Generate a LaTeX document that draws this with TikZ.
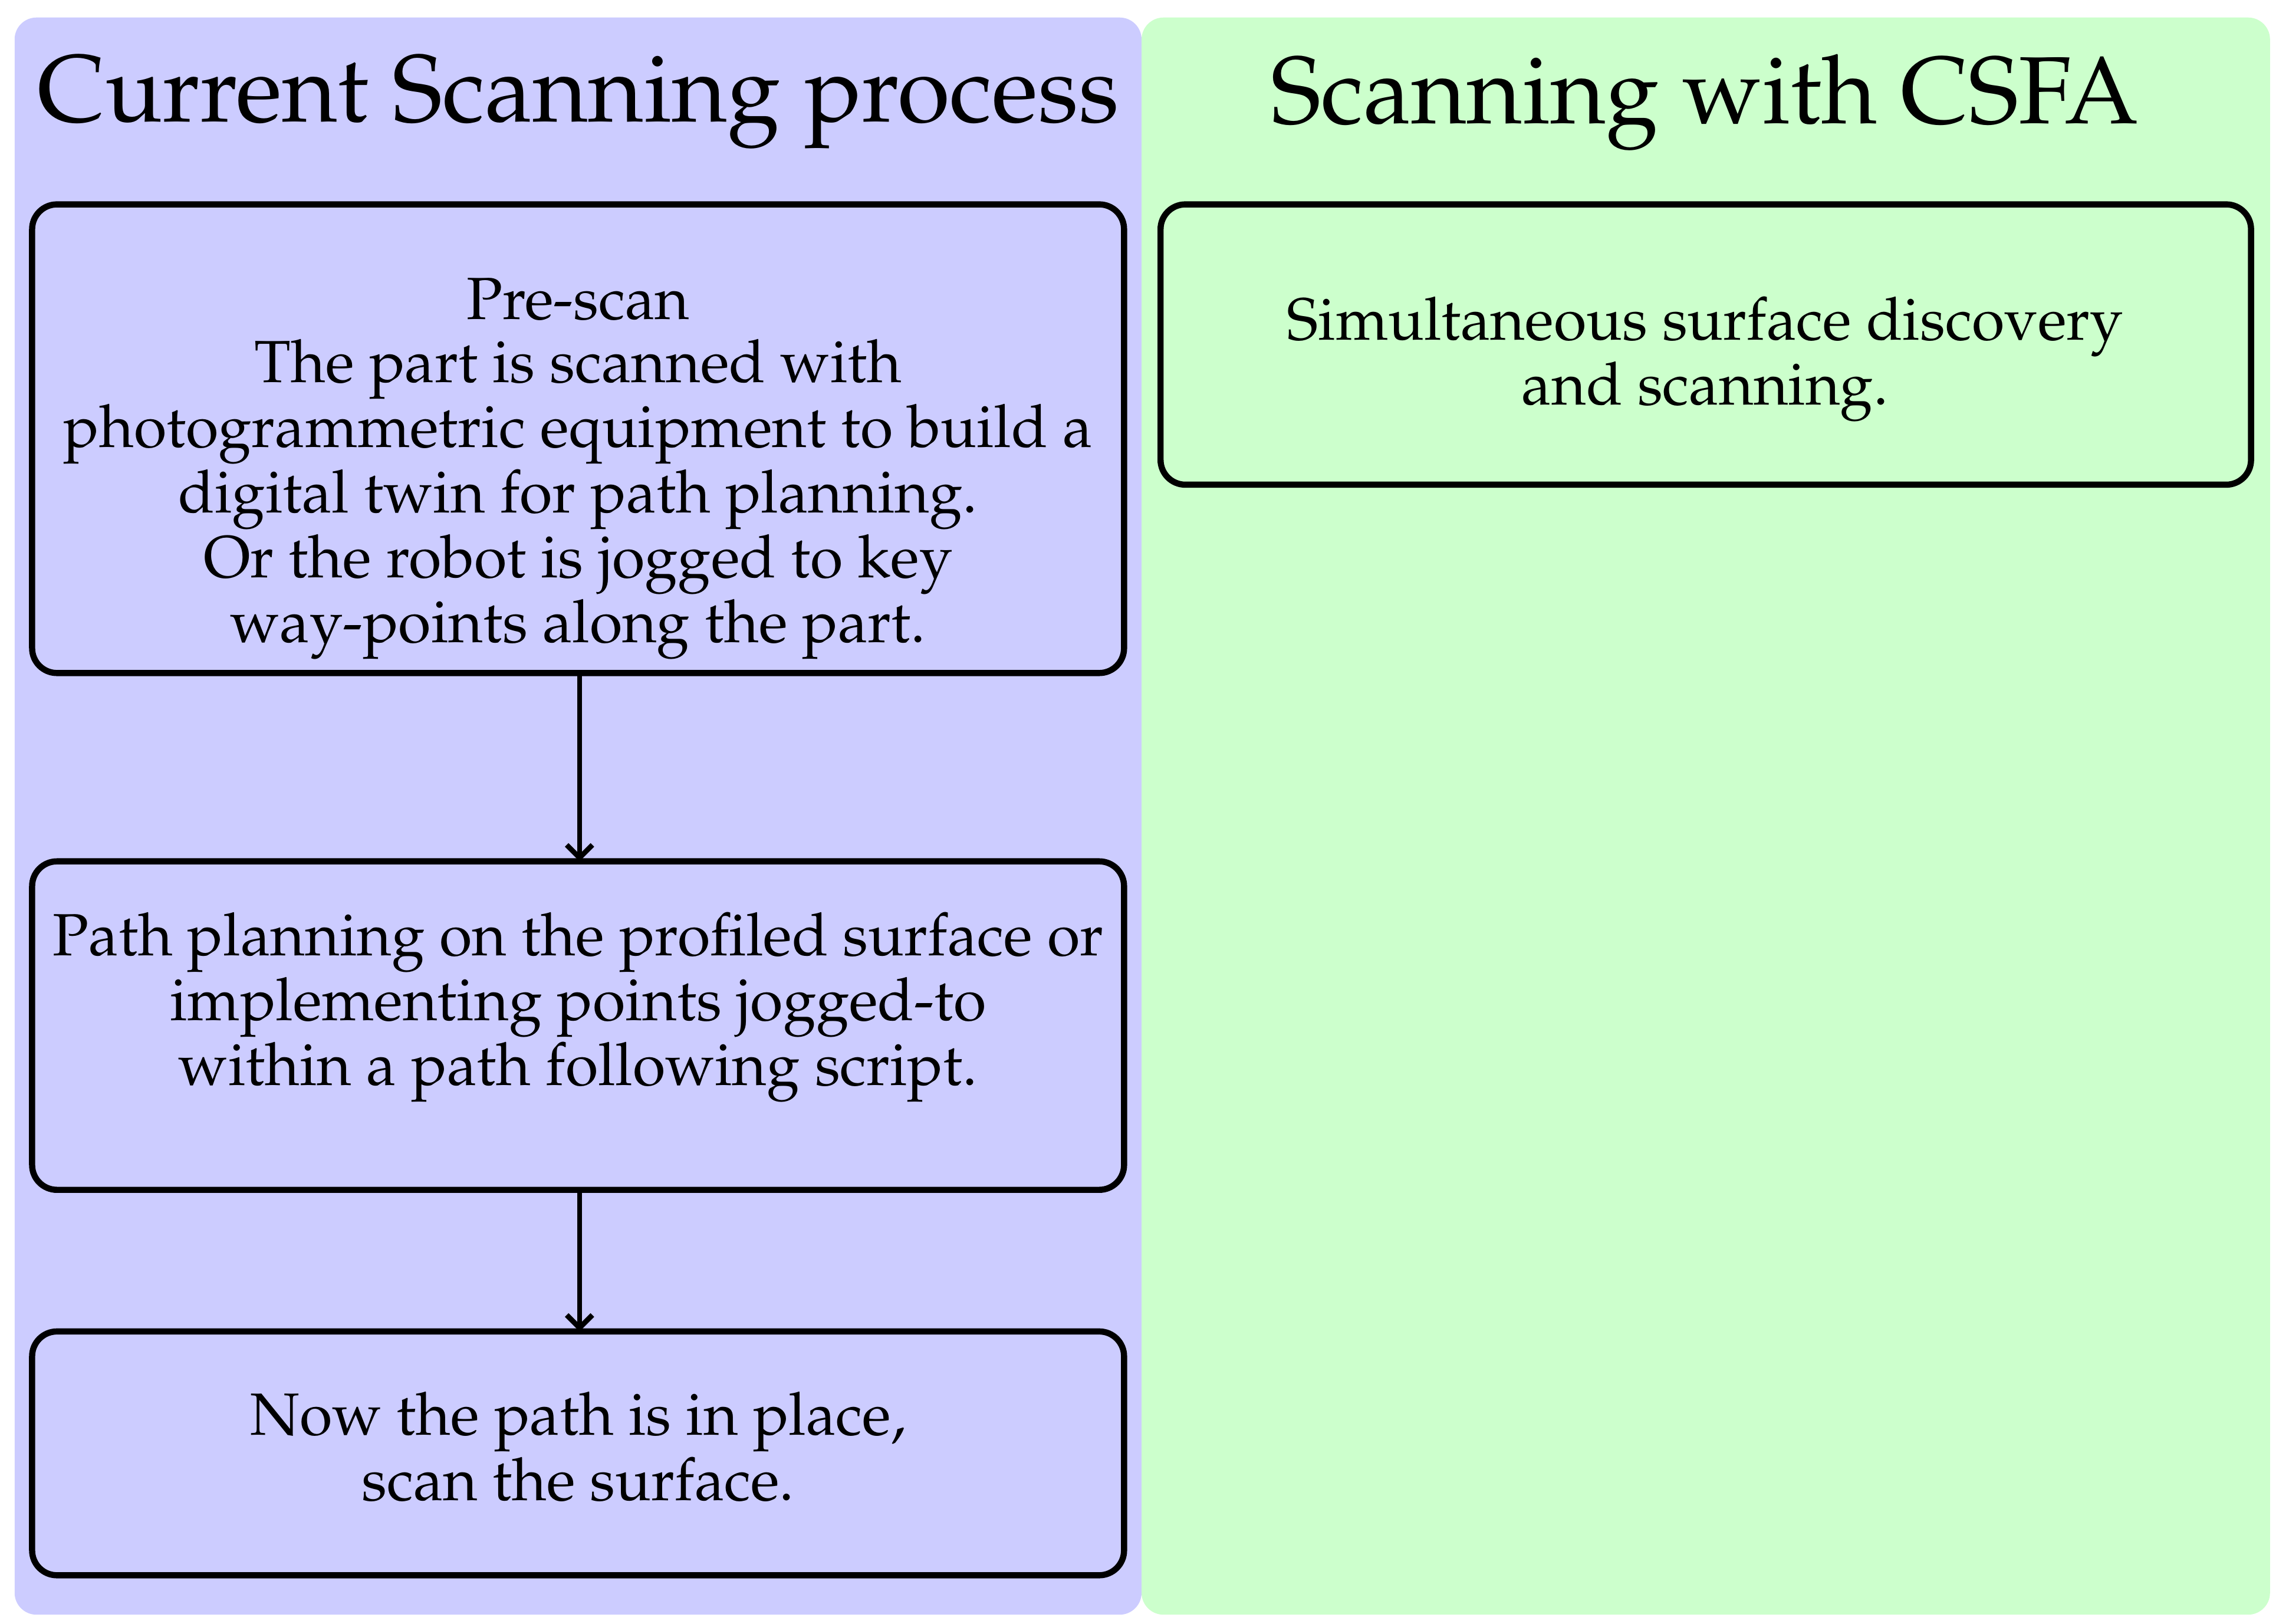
\documentclass[tikz,border=0pt]{standalone}
\usepackage[T1]{fontenc}
\usepackage{mathpazo}
\usetikzlibrary{arrows.meta}
\definecolor{pblue}{HTML}{CCCCFF}
\definecolor{pgreen}{HTML}{CCFFCC}
\tikzset{
 panel/.style={rounded corners=0.15cm},
 stepbox/.style={draw=black,line width=1.2pt,rounded corners=0.17cm},
 body/.style={align=center,font=\fontsize{11.6}{10.8}\selectfont,inner sep=0pt},
 ttl/.style={font=\fontsize{18.6}{20}\selectfont,inner sep=0pt},
 arr/.style={line width=1pt,-{Straight Barb[length=2.5pt,width=5pt]}}
}
\begin{document}
\begin{tikzpicture}[x=0.01cm,y=-0.01cm]
\useasboundingbox (0,0) rectangle (1568,1112);
\fill[pblue,panel] (10,12) rectangle (782,1106);
\fill[pgreen,panel] (782,12) rectangle (1555,1106);
\node[ttl] (t1) at (396,70) {Current Scanning process};
\node[ttl] (t2) at (1168,70) {Scanning with CSFA};
\draw[stepbox] (22,140) rectangle (770,461);
\coordinate (b1t) at (397,140); \coordinate (b1b) at (397,461);
\draw[stepbox] (22,590) rectangle (770,815);
\coordinate (b2t) at (397,590); \coordinate (b2b) at (397,815);
\draw[stepbox] (22,912) rectangle (770,1079);
\coordinate (b3t) at (397,912);
\draw[stepbox] (795,140) rectangle (1542,332);
\node[body] (n0) at (396,205) {Pre-scan};
\node[body] (n1) at (396,342) {The part is scanned with\\photogrammetric equipment to build a\\digital twin for path planning.\\Or the robot is jogged to key\\way-points along the part.};
\node[body] (n2) at (396,690) {Path planning on the profiled surface or\\implementing points jogged-to\\within a path following script.};
\node[body] (n3) at (396,991) {Now the path is in place,\\scan the surface.};
\node[body] (n4) at (1168,246) {Simultaneous surface discovery\\and scanning.};
\draw[arr] (b1b) -- (b2t);
\draw[arr] (b2b) -- (b3t);
\end{tikzpicture}
\end{document}
